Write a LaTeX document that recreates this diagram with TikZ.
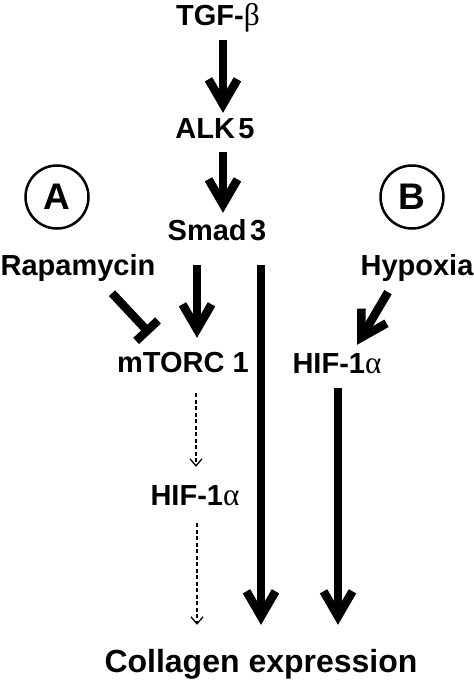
\documentclass[tikz,border=0pt]{standalone}
\usepackage{fontspec}
\setmainfont{Liberation Sans}
\newfontfamily\grk[Scale=1.08]{Liberation Serif}
\usetikzlibrary{arrows.meta}
\begin{document}
\begin{tikzpicture}[x=1pt,y=-1pt,
  lbl/.style={inner sep=0pt, anchor=base, text height=20pt, text depth=6pt,
    font=\fontsize{29}{31}\selectfont\bfseries},
  biglbl/.style={inner sep=0pt, anchor=base, text height=23pt, text depth=7pt,
    font=\fontsize{32}{34}\selectfont\bfseries},
  circ/.style={circle, draw, line width=2.5pt, minimum size=63pt, inner sep=0pt,
    font=\fontsize{37}{39}\selectfont\bfseries},
  big/.style={line width=8.5pt, -{Straight Barb[length=25pt,width=29pt,sharp]}},
  inhib/.style={line width=8.5pt, -{Bar[width=30pt]}},
  thin/.style={line width=1.3pt, dash pattern=on 4pt off 2.5pt,
    -{Straight Barb[length=7pt,width=12pt]}}]
\useasboundingbox (0,0) rectangle (474,683);
\node[lbl] (tgf) at (218,25) {TGF-{\grk\mdseries β}};
\node[lbl] (alk) at (215,138) {ALK\hspace{0.12em}5};
\node[lbl] (smad) at (217,240) {Smad\hspace{0.12em}3};
\node[lbl] (rap) at (78,275) {Rapamycin};
\node[lbl] (hyp) at (417,275) {Hypoxia};
\node[lbl] (mtor) at (183,372) {mTORC 1};
\node[lbl] (hifr) at (337,373) {HIF-1{\grk\mdseries α}};
\node[lbl] (hifm) at (195,505) {HIF-1{\grk\mdseries α}};
\node[biglbl] (col) at (261,672) {Collagen expression};
\node[circ] (ca) at (57,197) {A};
\node[circ] (cb) at (412,197) {B};
% connectors
\draw[big] ([xshift=5pt,yshift=-9pt]tgf.south) -- ([xshift=8pt,yshift=5pt]alk.north);
\draw[big] ([xshift=8pt,yshift=-8pt]alk.south) -- ([xshift=6pt,yshift=7pt]smad.north);
\draw[big] ([xshift=-20pt,yshift=-19pt]smad.south) -- ([xshift=14pt,yshift=14pt]mtor.north);
\draw[big] ([xshift=44pt,yshift=-19pt]smad.south) -- ([xshift=0pt,yshift=24pt]col.north);
\draw[inhib] ([xshift=34pt,yshift=-12pt]rap.south) -- ([xshift=-33pt,yshift=18pt]mtor.north);
\draw[big] ([xshift=-29pt,yshift=-11pt]hyp.south) -- ([xshift=20pt,yshift=8pt]hifr.north);
\draw[big] ([xshift=1pt,yshift=-9pt]hifr.south) -- ([xshift=77pt,yshift=24pt]col.north);
\draw[thin] ([xshift=13pt,yshift=-15pt]mtor.south) -- ([xshift=1pt,yshift=18pt]hifm.north);
\draw[thin] ([xshift=2pt,yshift=-12pt]hifm.south) -- ([xshift=-64pt,yshift=24pt]col.north);
\end{tikzpicture}
\end{document}
